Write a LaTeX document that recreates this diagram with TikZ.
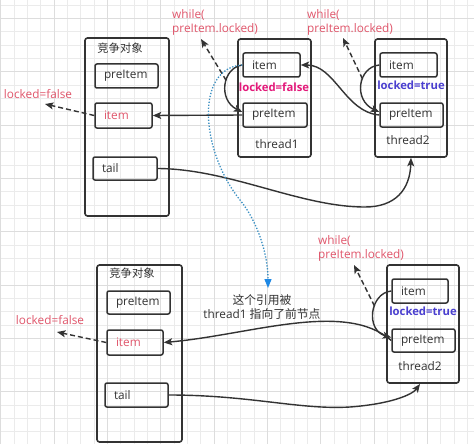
\documentclass[tikz,border=0pt]{standalone}
\usepackage{fontspec}
\setmainfont{Open Sans}
\newfontfamily\cjk{Noto Sans CJK SC}
\usetikzlibrary{arrows.meta}
\definecolor{ink}{HTML}{333333}
\definecolor{lblred}{HTML}{E0566B}
\definecolor{magentab}{HTML}{E3197A}
\definecolor{blueb}{HTML}{4A3FCF}
\definecolor{dotblue}{HTML}{3A8FC2}
\definecolor{tipblue}{HTML}{1E88E5}
\definecolor{gridminor}{HTML}{EBEBEB}
\definecolor{gridmajor}{HTML}{DDDDDD}
\newcommand{\fldtxt}[2]{\makebox[#1][l]{#2}}
\begin{document}
\begin{tikzpicture}[x=1pt,y=-1pt,
  font=\fontsize{11.8}{14}\selectfont,
  outerbox/.style={draw=ink, line width=1.6pt, rounded corners=2.5pt, inner sep=0pt},
  fld/.style={draw=ink, line width=1.5pt, rounded corners=2pt, inner xsep=9pt, inner ysep=0pt, text=ink},
  txt/.style={inner sep=0pt, text=ink},
  cjktxt/.style={inner sep=0pt, text=ink, font=\fontsize{11.3}{13.5}\selectfont\cjk},
  redlbl/.style={inner sep=0pt, text=lblred},
  boldlbl/.style={inner sep=0pt, font=\fontsize{11.3}{13.5}\selectfont\bfseries},
  wlbl/.style={inner sep=0pt, text=lblred, align=left, anchor=west, font=\fontsize{11.8}{14}\selectfont},
  arr/.style={draw=ink, line width=1.4pt, -{Stealth[length=8.5pt,width=7pt,inset=2pt]}},
  darr/.style={draw=ink, line width=1.4pt, dash pattern=on 5pt off 3pt, -{Stealth[length=8.5pt,width=7pt,inset=2pt]}},
  dotarr/.style={draw=dotblue, line width=1.3pt, dash pattern=on 1.3pt off 1.7pt, -{Triangle[length=9pt,width=7pt,fill=tipblue,color=tipblue]}}
]
\useasboundingbox (0,0) rectangle (474,444);
\fill[white] (0,0) rectangle (474,444);
% grid
\foreach \i in {0,...,35} {\pgfmathsetmacro\gx{0.7+13.33*\i}\draw[gridminor, line width=0.5pt] (\gx,0) -- (\gx,444);}
\foreach \k in {0,...,33} {\pgfmathsetmacro\gy{5+13.33*\k}\draw[gridminor, line width=0.5pt] (0,\gy) -- (474,\gy);}
\foreach \i in {0,4,...,32} {\pgfmathsetmacro\gx{0.7+13.33*\i}\draw[gridmajor, line width=0.5pt] (\gx,0) -- (\gx,444);}
\foreach \k in {1,5,...,33} {\pgfmathsetmacro\gy{5+13.33*\k}\draw[gridmajor, line width=0.5pt] (0,\gy) -- (474,\gy);}

% ---------- top: competing object ----------
\node[outerbox, minimum width=84pt, minimum height=178pt] (C1) at (127,127) {};
\node[cjktxt] (C1t) at (120,48) {竞争对象};
\node[fld, minimum height=24pt] (C1pre) at (126.5,76) {\fldtxt{45pt}{preItem}};
\node[fld, minimum height=25pt] (C1item) at (123.5,115.5) {\fldtxt{39pt}{\textcolor{lblred}{item}}};
\node[fld, minimum height=23pt] (C1tail) at (125,168.5) {\fldtxt{46pt}{tail}};
\node[redlbl] (lf1) at (38,94) {locked=false};
\coordinate (lf1tip) at (45,104);

% ---------- top: thread1 ----------
\node[outerbox, minimum width=73pt, minimum height=118pt] (T1) at (274.5,98) {};
\node[fld, minimum height=24pt] (T1item) at (271.5,65) {\fldtxt{39pt}{item}};
\node[fld, minimum height=24pt] (T1pre) at (275,115) {\fldtxt{46pt}{preItem}};
\node[boldlbl, text=magentab] (T1lk) at (274,87) {locked=false};
\node[txt] (T1n) at (277,144) {thread1};

% ---------- top: thread2 ----------
\node[outerbox, minimum width=72pt, minimum height=118pt] (T2) at (411,98) {};
\node[fld, minimum height=24pt] (T2item) at (408.5,65) {\fldtxt{39pt}{item}};
\node[fld, minimum height=24pt] (T2pre) at (411.5,115) {\fldtxt{45pt}{preItem}};
\node[boldlbl, text=blueb] (T2lk) at (411,85) {locked=true};
\node[txt] (T2n) at (408,140) {thread2};

\node[wlbl] (W1) at (172,22) {while(\\preItem.locked)};
\node[wlbl] (W2) at (307,22) {while(\\preItem.locked)};
\coordinate (w1tip) at (201,39);
\coordinate (w2tip) at (343,38);

% top connectors
\draw[arr] (T1item.west) .. controls (222,68) and (218,100) .. coordinate[pos=0.42] (k1) ([yshift=3pt]T1pre.west);
\draw[darr] (k1) -- (w1tip);
\draw[arr] (T2item.west) .. controls (358,67) and (353,100) .. coordinate[pos=0.4] (k2) ([yshift=3pt]T2pre.west);
\draw[darr] (k2) -- (w2tip);
\draw[arr] (T2pre.west) .. controls (345,112) and (335,65) .. (T1item.east);
\draw[arr] (T1pre.west) -- (C1item.east);
\draw[darr] (C1item.west) -- (lf1tip);
\draw[arr] (C1tail.east) .. controls (230,169) and (300,207) .. (365,207) .. controls (395,207) and (410,190) .. (T2.south);

% ---------- note + dotted reference ----------
\node[txt, align=center] (note) at (262,306.5) {{\cjk 这个引用被}\\thread1 {\cjk 指向了前节点}};
\coordinate (dottip) at (268,288);
\draw[dotarr] (T1item.west) .. controls (195,68) and (200,150) .. (240,200) .. controls (258,222) and (268,255) .. (dottip);

% ---------- bottom: competing object ----------
\node[outerbox, minimum width=85pt, minimum height=177pt] (C2) at (139.5,353.5) {};
\node[cjktxt] (C2t) at (132,273) {竞争对象};
\node[fld, minimum height=23pt] (C2pre) at (138.5,302.5) {\fldtxt{45pt}{preItem}};
\node[fld, minimum height=25pt] (C2item) at (135,342.5) {\fldtxt{38pt}{\textcolor{lblred}{item}}};
\node[fld, minimum height=24pt] (C2tail) at (136.5,395) {\fldtxt{45pt}{tail}};
\node[redlbl] (lf2) at (50,320) {locked=false};
\coordinate (lf2tip) at (57,332);

% ---------- bottom: thread2 ----------
\node[outerbox, minimum width=72pt, minimum height=118pt] (T3) at (423,324) {};
\node[fld, minimum height=24pt] (T3item) at (420,291) {\fldtxt{38pt}{item}};
\node[fld, minimum height=23pt] (T3pre) at (423.5,340.5) {\fldtxt{45pt}{preItem}};
\node[boldlbl, text=blueb] (T3lk) at (423,311) {locked=true};
\node[txt] (T3n) at (420,366) {thread2};
\node[wlbl] (W3) at (318,248.5) {while(\\preItem.locked)};
\coordinate (w3tip) at (354,265);
\coordinate (t3tip) at (420,384);

% bottom connectors
\draw[arr] (T3item.west) .. controls (370,293) and (365,330) .. coordinate[pos=0.4] (k3) ([yshift=3pt]T3pre.west);
\draw[darr] (k3) -- (w3tip);
\draw[arr] (T3pre.west) .. controls (345,300) and (250,335) .. (C2item.east);
\draw[darr] (C2item.west) -- (lf2tip);
\draw[arr] (C2tail.east) .. controls (250,395) and (300,410) .. (350,407) .. controls (390,404) and (412,395) .. (t3tip);
\end{tikzpicture}
\end{document}
